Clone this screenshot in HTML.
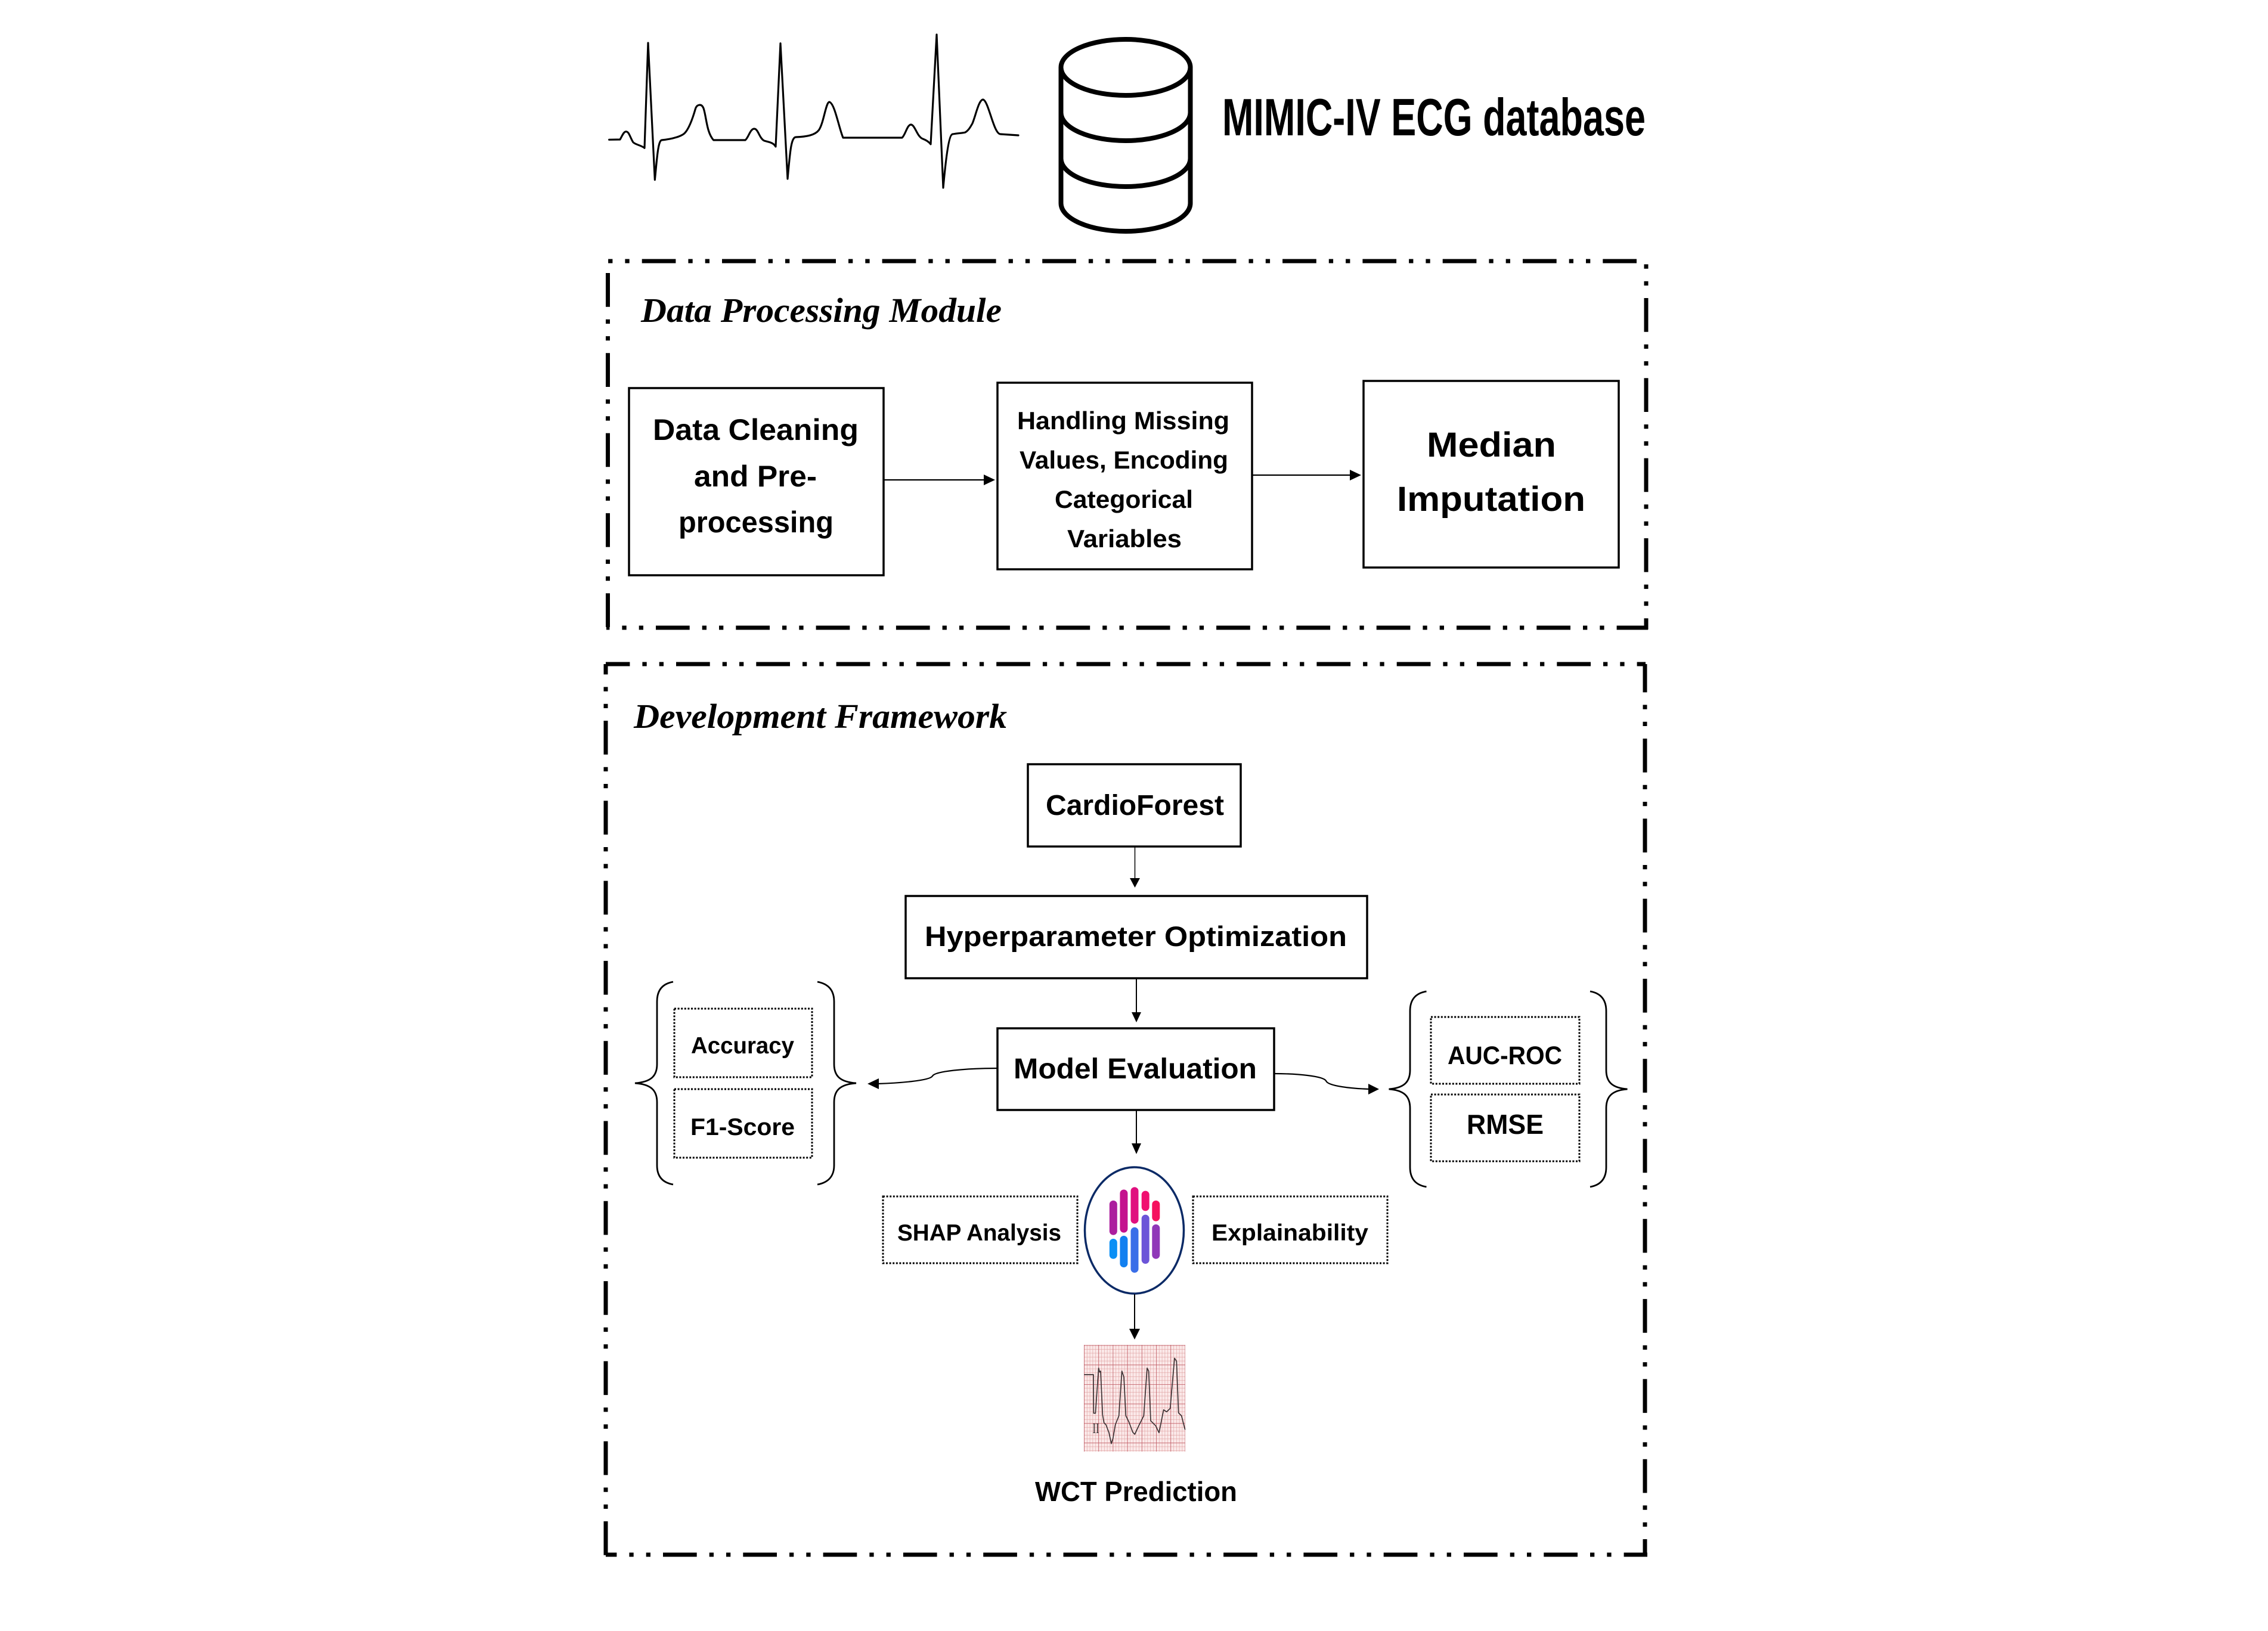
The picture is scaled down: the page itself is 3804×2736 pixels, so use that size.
<!DOCTYPE html>
<html><head><meta charset="utf-8"><title>MIMIC-IV ECG WCT pipeline</title>
<style>
html,body{margin:0;padding:0;background:#fff;width:3804px;height:2736px;overflow:hidden}
svg{display:block}
.s{font-family:"Liberation Sans",sans-serif;font-weight:700;fill:#000}
.i{font-family:"Liberation Serif",serif;font-weight:700;font-style:italic;fill:#000}
.b{fill:#fff;stroke:#000;stroke-width:3.5}
.d{fill:#fff;stroke:#000;stroke-width:3;stroke-dasharray:3 2.6}
.dd{stroke:#000;stroke-width:7;stroke-dasharray:56.7 21 7.3 21 7.3 21;fill:none}
.l{stroke:#000;stroke-width:2.2;fill:none}
.br{stroke:#000;stroke-width:2.8;fill:none}
</style></head><body>
<svg xmlns="http://www.w3.org/2000/svg" width="3804" height="2736" viewBox="0 0 3804 2736">
<defs>
<pattern id="minor" x="1842.3" y="2289.3" width="4.84" height="6.54" patternUnits="userSpaceOnUse">
<path d="M0 0V6.54M0 0H4.84" stroke="#dc9a9a" stroke-width="1.1" fill="none"/>
</pattern>
<pattern id="major" x="1842.3" y="2289.3" width="24.2" height="32.7" patternUnits="userSpaceOnUse">
<path d="M0 0V32.7M0 0H24.2" stroke="#bd5660" stroke-width="1.5" fill="none"/>
</pattern>
</defs>
<rect width="3804" height="2736" fill="#fff"/>

<!-- ECG trace -->
<g transform="translate(1010,90) scale(0.33333)">
<path fill="none" stroke="#000" stroke-width="9.5" stroke-linejoin="round" stroke-linecap="round" d="M35 433 L90 432 C100 415 108 392 120 392 C135 392 140 420 155 445 C165 458 195 460 213 475 L231 -54 L265 635 C275 540 280 437 300 435 C355 430 400 415 415 400 C440 375 460 310 470 275 C478 255 500 250 510 275 C525 320 525 395 560 435 L720 435 C735 425 745 378 765 378 C785 378 790 425 815 438 C835 445 860 445 873 468 L897 -52 L933 630 C945 500 950 420 975 420 C1030 418 1070 410 1090 385 C1115 350 1125 245 1143 243 C1170 250 1190 370 1212 423 L1509 423 C1525 410 1535 357 1554 357 C1575 360 1585 420 1614 429 C1630 435 1645 445 1653 456 L1683 -96 L1716 675 C1730 520 1745 405 1764 405 C1790 400 1815 400 1827 396 C1845 385 1855 365 1863 351 C1880 310 1895 231 1917 231 C1945 240 1970 405 2004 405 L2094 411"/>
</g>

<!-- Database -->
<g fill="none" stroke="#000" stroke-width="8">
<ellipse cx="1888" cy="113" rx="108.5" ry="47"/>
<path d="M1779.5 113V341M1996.5 113V341"/>
<path d="M1779.5 189A108.5 47 0 0 0 1996.5 189"/>
<path d="M1779.5 266A108.5 47 0 0 0 1996.5 266"/>
<path d="M1779.5 341A108.5 47 0 0 0 1996.5 341"/>
</g>
<text class="s" x="2050" y="227" font-size="88" textLength="710" lengthAdjust="spacingAndGlyphs">MIMIC-IV ECG database</text>

<!-- Data Processing Module frame -->
<line class="dd" x1="1020" y1="438" x2="2761" y2="438" stroke-dashoffset="77.6"/>
<line class="dd" x1="1019.5" y1="438" x2="1019.5" y2="1056" stroke-dashoffset="114.3"/>
<line class="dd" x1="2761" y1="438" x2="2761" y2="1056" stroke-dashoffset="72.3"/>
<line class="dd" x1="1017" y1="1053" x2="2764" y2="1053" stroke-dashoffset="51.3"/>
<text class="i" x="1075" y="540" font-size="58" textLength="605" lengthAdjust="spacingAndGlyphs">Data Processing Module</text>

<rect class="b" x="1055" y="651" width="427" height="314"/>
<rect class="b" x="1673" y="642" width="427" height="313"/>
<rect class="b" x="2287" y="639" width="428" height="313"/>

<text class="s" x="1095" y="738" font-size="50" textLength="345" lengthAdjust="spacingAndGlyphs">Data Cleaning</text>
<text class="s" x="1164" y="816" font-size="50" textLength="206" lengthAdjust="spacingAndGlyphs">and Pre-</text>
<text class="s" x="1138" y="893" font-size="50" textLength="260" lengthAdjust="spacingAndGlyphs">processing</text>

<text class="s" x="1706" y="720" font-size="42" textLength="356" lengthAdjust="spacingAndGlyphs">Handling Missing</text>
<text class="s" x="1710" y="786" font-size="42" textLength="350" lengthAdjust="spacingAndGlyphs">Values, Encoding</text>
<text class="s" x="1769" y="852" font-size="42" textLength="232" lengthAdjust="spacingAndGlyphs">Categorical</text>
<text class="s" x="1790" y="918" font-size="42" textLength="192" lengthAdjust="spacingAndGlyphs">Variables</text>

<text class="s" x="2393" y="766" font-size="58" textLength="217" lengthAdjust="spacingAndGlyphs">Median</text>
<text class="s" x="2343" y="857" font-size="58" textLength="316" lengthAdjust="spacingAndGlyphs">Imputation</text>

<line class="l" x1="1482" y1="805" x2="1652" y2="805"/>
<path d="M1669 805L1650 796V814Z"/>
<line class="l" x1="2100" y1="797" x2="2266" y2="797"/>
<path d="M2283 797L2264 788V806Z"/>

<!-- Development Framework frame -->
<line class="dd" x1="1016" y1="1114" x2="2760" y2="1114" stroke-dashoffset="16.3"/>
<line class="dd" x1="1016" y1="1114" x2="1016" y2="2611" stroke-dashoffset="39.3"/>
<line class="dd" x1="2759" y1="1114" x2="2759" y2="2611" stroke-dashoffset="9.3"/>
<line class="dd" x1="1016" y1="2608" x2="2763" y2="2608" stroke-dashoffset="38.3"/>
<text class="i" x="1063" y="1221" font-size="58" textLength="626" lengthAdjust="spacingAndGlyphs">Development Framework</text>

<rect class="b" x="1724" y="1282" width="357" height="138"/>
<text class="s" x="1754" y="1367" font-size="48" textLength="299" lengthAdjust="spacingAndGlyphs">CardioForest</text>
<line x1="1903.5" y1="1420" x2="1903.5" y2="1478" stroke="#000" stroke-width="1.5"/>
<path d="M1903.5 1489L1895 1473H1912Z"/>

<rect class="b" x="1519" y="1503" width="774" height="138"/>
<text class="s" x="1551" y="1587" font-size="47" textLength="708" lengthAdjust="spacingAndGlyphs">Hyperparameter Optimization</text>
<line x1="1906" y1="1641" x2="1906" y2="1702" stroke="#000" stroke-width="2"/>
<path d="M1906 1715L1898 1698H1914Z"/>

<rect class="b" x="1673" y="1725" width="464" height="137"/>
<text class="s" x="1700" y="1809" font-size="48" textLength="408" lengthAdjust="spacingAndGlyphs">Model Evaluation</text>
<line x1="1906" y1="1862" x2="1906" y2="1922" stroke="#000" stroke-width="2"/>
<path d="M1906 1936L1898 1918H1914Z"/>

<!-- curved connectors -->
<path class="l" d="M1672 1792C1620 1792 1568 1797 1564 1805C1560 1813 1505 1817 1472 1818"/>
<path d="M1455 1818L1474 1809V1827Z"/>
<path class="l" d="M2136 1801C2176 1801 2219 1805 2224 1813C2227 1822 2267 1826 2297 1827"/>
<path d="M2313 1827L2295 1818V1836Z"/>

<!-- left metric brace -->
<path class="br" d="M1129 1647C1112 1650 1102 1660 1102 1680V1785C1102 1805 1092 1815 1065 1817C1092 1819 1102 1829 1102 1849V1955C1102 1974 1112 1984 1129 1987"/>
<path class="br" d="M1371 1647C1388 1650 1399 1660 1399 1680V1785C1399 1805 1409 1815 1436 1817C1409 1819 1399 1829 1399 1849V1955C1399 1974 1388 1984 1371 1987"/>
<rect class="d" x="1131" y="1692" width="231" height="115"/>
<rect class="d" x="1131" y="1827" width="231" height="115"/>
<text class="s" x="1159" y="1767" font-size="39" textLength="173" lengthAdjust="spacingAndGlyphs">Accuracy</text>
<text class="s" x="1158" y="1904" font-size="40" textLength="175" lengthAdjust="spacingAndGlyphs">F1-Score</text>

<!-- right metric brace -->
<path class="br" d="M2392.5 1663C2375 1666 2365 1676 2365 1696V1795C2365 1815 2355 1825 2329.5 1827C2355 1829 2365 1839 2365 1859V1958C2365 1978 2375 1988 2392.5 1991"/>
<path class="br" d="M2667 1663C2684 1666 2694 1676 2694 1696V1795C2694 1815 2704 1825 2729.5 1827C2704 1829 2694 1839 2694 1859V1958C2694 1978 2684 1988 2667 1991"/>
<rect class="d" x="2400" y="1706" width="249" height="112"/>
<rect class="d" x="2400" y="1836" width="249" height="112"/>
<text class="s" x="2428" y="1785" font-size="43" textLength="192" lengthAdjust="spacingAndGlyphs">AUC-ROC</text>
<text class="s" x="2460" y="1902" font-size="46" textLength="129" lengthAdjust="spacingAndGlyphs">RMSE</text>

<!-- SHAP row -->
<rect class="d" x="1481" y="2007" width="326" height="112"/>
<text class="s" x="1505" y="2081" font-size="39" textLength="275" lengthAdjust="spacingAndGlyphs">SHAP Analysis</text>
<rect class="d" x="2001" y="2007" width="326" height="112"/>
<text class="s" x="2032" y="2081" font-size="39" textLength="263" lengthAdjust="spacingAndGlyphs">Explainability</text>
<ellipse cx="1902.5" cy="2064" rx="83" ry="106" fill="#fff" stroke="#0b2a66" stroke-width="3.5"/>
<g>
<rect x="1860.8" y="2013.9" width="13" height="57.9" rx="6.5" fill="#ac1e9e"/>
<rect x="1878.4" y="1995.5" width="13" height="72.3" rx="6.5" fill="#c4128e"/>
<rect x="1896.5" y="1991.4" width="13" height="61.3" rx="6.5" fill="#e0107f"/>
<rect x="1914.7" y="1997.6" width="13" height="33.8" rx="6.5" fill="#f01070"/>
<rect x="1932.3" y="2013.9" width="13" height="34.7" rx="6.5" fill="#f5115e"/>
<rect x="1860.8" y="2078" width="13" height="33.8" rx="6.5" fill="#0a8ff5"/>
<rect x="1878.4" y="2073" width="13" height="53" rx="6.5" fill="#1280f0"/>
<rect x="1896.5" y="2058.8" width="13" height="76.2" rx="6.5" fill="#3a6ee8"/>
<rect x="1914.7" y="2037.6" width="13" height="82.4" rx="6.5" fill="#6c55d8"/>
<rect x="1932.3" y="2053.9" width="13" height="57.9" rx="6.5" fill="#9038b8"/>
</g>
<line x1="1903" y1="2171" x2="1903" y2="2233" stroke="#000" stroke-width="2"/>
<path d="M1903 2247L1894 2229H1912Z"/>

<!-- ECG strip -->
<rect x="1818" y="2256" width="170" height="179" fill="#fbe9e9"/>
<rect x="1818" y="2256" width="170" height="179" fill="url(#minor)"/>
<rect x="1818" y="2256" width="170" height="179" fill="url(#major)"/>
<g transform="translate(1810,2250) scale(0.33333)">
<path fill="none" stroke="#3a3032" stroke-width="5" stroke-linejoin="round" d="M25 168 L72 168 L73 362 L82 362 L98 135 L103 155 L108 150 L118 370 L125 410 L135 420 L150 460 L162 515 L170 490 L182 420 L200 375 L215 150 L220 165 L225 180 L235 375 L250 405 L270 458 L280 468 L300 425 L325 375 L342 135 L350 150 L360 400 L385 425 L402 460 L415 395 L425 345 L440 355 L458 338 L480 85 L490 100 L500 360 L515 375 L533 445"/>
</g>
<text x="1832.5" y="2404" font-family="Liberation Serif, serif" font-size="24" fill="#3a3032" textLength="11" lengthAdjust="spacingAndGlyphs">II</text>
<text class="s" x="1736" y="2518" font-size="46" textLength="339" lengthAdjust="spacingAndGlyphs">WCT Prediction</text>
</svg>
</body></html>
